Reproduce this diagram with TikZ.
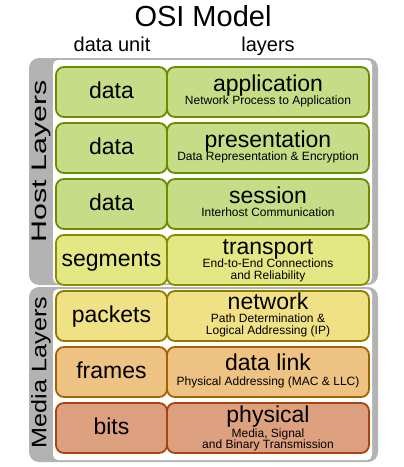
\documentclass[tikz,border=0pt]{standalone}
\usepackage{fontspec}
\setmainfont{Liberation Sans}
\usepackage{graphicx}
\definecolor{panelgray}{HTML}{B3B3B3}
\definecolor{gfill}{HTML}{C6DC86}
\definecolor{gdraw}{HTML}{6E8B00}
\definecolor{tfill}{HTML}{E3E884}
\definecolor{tdraw}{HTML}{8A8C00}
\definecolor{nfill}{HTML}{F0E186}
\definecolor{ndraw}{HTML}{8E7C00}
\definecolor{dfill}{HTML}{EEC282}
\definecolor{ddraw}{HTML}{A36300}
\definecolor{pfill}{HTML}{DDA17F}
\definecolor{pdraw}{HTML}{A8440E}
\tikzset{
  px/.style={x=1pt,y=-1pt},
  cell/.style={draw=#1, line width=1.8pt, rounded corners=8pt},
  big/.style={font=\fontsize{23}{23}\selectfont, anchor=base, inner sep=0pt},
  small/.style={font=\fontsize{12}{12}\selectfont, anchor=base, inner sep=0pt},
  head/.style={font=\fontsize{20}{20}\selectfont, anchor=base, inner sep=0pt},
  side/.style={font=\fontsize{21}{21}\selectfont, rotate=90, inner sep=0pt},
}
\newcommand{\osirowbox}[3]{%
  \filldraw[fill=#2, cell=#3] (56,#1) rectangle (167,#1+50);
  \filldraw[fill=#2, cell=#3] (167,#1) rectangle (369,#1+50);
}
\begin{document}
\begin{tikzpicture}[px]
\useasboundingbox (0,0) rectangle (404,467);
% title and headings
\node[font=\fontsize{29}{29}\selectfont, anchor=base, inner sep=0pt] (title) at (203,26) {OSI Model};
\node[head] (hunit) at (112,51) {data unit};
\node[head] (hlayers) at (268,51) {layers};
% panels
\fill[panelgray, rounded corners=10pt] (29,58) rectangle (378,285);
\fill[white, rounded corners=5pt] (53,60) rectangle (372,283.5);
\fill[panelgray, rounded corners=10pt] (29,287) rectangle (378,462);
\fill[white, rounded corners=5pt] (53,289) rectangle (372,460);
\node[side] (host) at (41,161.5) {\scalebox{1.45}[1]{Host Layers}};
\node[side] (media) at (41,372.5) {\scalebox{1.2}[1]{Media Layers}};
% rows
\osirowbox{67}{gfill}{gdraw}
\osirowbox{123}{gfill}{gdraw}
\osirowbox{179}{gfill}{gdraw}
\osirowbox{235}{tfill}{tdraw}
\osirowbox{291}{nfill}{ndraw}
\osirowbox{347}{dfill}{ddraw}
\osirowbox{403}{pfill}{pdraw}
% unit texts
\node[big] (u1) at (111.5,98) {data};
\node[big] (u2) at (111.5,154) {data};
\node[big] (u3) at (111.5,210) {data};
\node[big] (u4) at (111.5,266) {segments};
\node[big] (u5) at (111.5,322) {packets};
\node[big] (u6) at (111.5,378) {frames};
\node[big] (u7) at (111.5,434) {bits};
% layer texts
\node[big] (l1) at (268,91) {application};
\node[small] (s1) at (268,104) {Network Process to Application};
\node[big] (l2) at (268,147) {presentation};
\node[small] (s2) at (268,160) {Data Representation \& Encryption};
\node[big] (l3) at (268,203) {session};
\node[small] (s3) at (268,216) {Interhost Communication};
\node[big] (l4) at (268,254) {transport};
\node[small] (s4a) at (268,267.5) {End-to-End Connections};
\node[small] (s4b) at (268,279) {and Reliability};
\node[big] (l5) at (268,309) {network};
\node[small] (s5a) at (268,322.5) {Path Determination \&};
\node[small] (s5b) at (268,334) {Logical Addressing (IP)};
\node[big] (l6) at (268,370) {data link};
\node[small] (s6) at (268,385) {Physical Addressing (MAC \& LLC)};
\node[big] (l7) at (268,422) {physical};
\node[small] (s7a) at (268,437) {Media, Signal};
\node[small] (s7b) at (268,448.5) {and Binary Transmission};
\end{tikzpicture}
\end{document}
